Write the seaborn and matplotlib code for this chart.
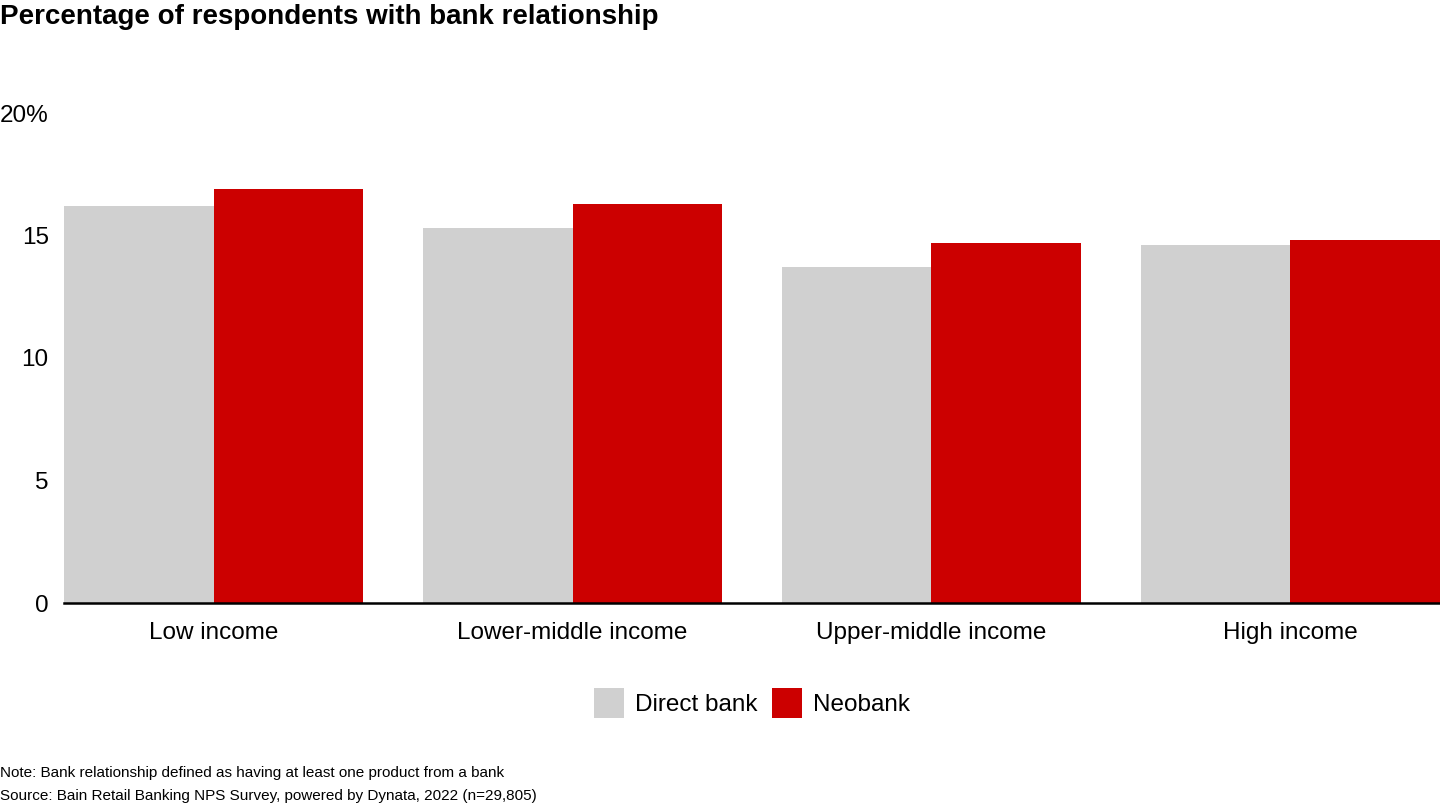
import pandas as pd
import seaborn as sns
import matplotlib.pyplot as plt

# values
categories = ["Low income", "Lower-middle income", "Upper-middle income", "High income"]
direct_bank = [16.2, 15.3, 13.7, 14.6]
neobank = [16.9, 16.3, 14.7, 14.8]
series_names = ["Direct bank", "Neobank"]
y_ticks = [0, 5, 10, 15, 20]
y_tick_labels = ["0", "5", "10", "15", "20%"]

data = pd.DataFrame({
    "income": categories * 2,
    "share": direct_bank + neobank,
    "bank": [series_names[0]] * 4 + [series_names[1]] * 4,
})

sns.set_style("white")
plt.rcParams["font.family"] = ["Liberation Sans", "DejaVu Sans"]
plt.rcParams["text.color"] = "black"
plt.rcParams["xtick.color"] = "black"
plt.rcParams["ytick.color"] = "black"

fig = plt.figure(figsize=(14.4, 8.1), dpi=100)
ax = fig.add_axes([64 / 1440, 1 - 603 / 810, 1 - 64 / 1440, (603 - 113) / 810])

sns.barplot(data=data, x="income", y="share", hue="bank",
            palette={"Direct bank": "#d0d0d0", "Neobank": "#cc0000"},
            saturation=1, width=0.833, gap=0, linewidth=0, ax=ax)

ax.set_xlim(-0.4167, 3.4167)
ax.set_ylim(0, 20)
ax.set_yticks(y_ticks)
ax.set_yticklabels(y_tick_labels)
ax.set_xlabel("")
ax.set_ylabel("")
ax.tick_params(axis="y", length=0, pad=11, labelsize=17.5, labelcolor="black")
ax.tick_params(axis="x", length=0, pad=13.5, labelsize=17.5, labelcolor="black")
for side in ["top", "right", "left"]:
    ax.spines[side].set_visible(False)
ax.spines["bottom"].set_color("black")
ax.spines["bottom"].set_linewidth(1.8)

handles, labels = ax.get_legend_handles_labels()
ax.legend(handles, labels, loc="center", bbox_to_anchor=(752 / 1440, 1 - 703 / 810),
          bbox_transform=fig.transFigure, ncol=2, frameon=False, fontsize=17.5,
          handlelength=1.25, handleheight=1.5, handletextpad=0.45, columnspacing=0.6)

fig.text(0.0, 1 - 17 / 810, "Percentage of respondents with bank relationship",
         ha="left", va="center", fontsize=20, fontweight="bold")
fig.text(0.0, 1 - 773 / 810, "Note: Bank relationship defined as having at least one product from a bank",
         ha="left", va="center", fontsize=11)
fig.text(0.0, 1 - 796 / 810, "Source: Bain Retail Banking NPS Survey, powered by Dynata, 2022 (n=29,805)",
         ha="left", va="center", fontsize=11)

fig.savefig("out.png", dpi=100)
